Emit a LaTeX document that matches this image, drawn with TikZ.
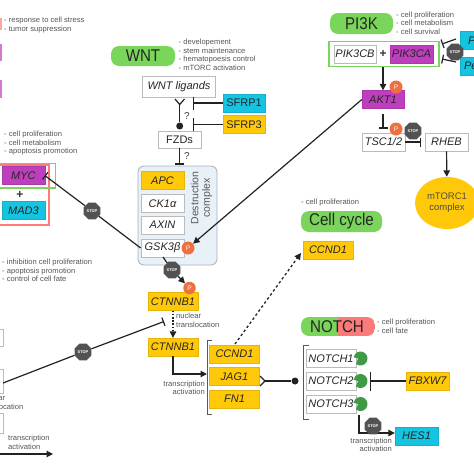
\documentclass[tikz,border=0pt]{standalone}
\usepackage{fontspec}
\setmainfont{Liberation Sans}
\usetikzlibrary{arrows.meta,shapes.geometric}
\definecolor{gy}{HTML}{FFC90A}
\definecolor{cy}{HTML}{14C4E0}
\definecolor{pu}{HTML}{BE3FBE}
\definecolor{gn}{HTML}{7AD65A}
\definecolor{rd}{HTML}{FB7A7A}
\definecolor{pk}{HTML}{F8A8A0}
\definecolor{orangep}{HTML}{EE7040}
\definecolor{ln}{HTML}{222222}
\definecolor{txt}{HTML}{555555}
\definecolor{bd}{HTML}{BBBBBB}
\definecolor{dcf}{HTML}{E8F0F8}
\definecolor{dcb}{HTML}{A8B0BC}
\definecolor{pac}{HTML}{3F9A45}
\newcommand{\nrw}[1]{\scalebox{.89}[1]{#1}}
\tikzset{
 x=1pt,y=-1pt,
 gene/.style={minimum width=#1,minimum height=18pt,inner sep=0pt,font=\fontsize{11}{11}\selectfont\itshape,text=black!85},
 gene/.default=43pt,
 ygene/.style={gene=#1,fill=gy,draw=gy!90!black,line width=.3pt},
 ygene/.default=43pt,
 cgene/.style={gene=#1,fill=cy,draw=cy!90!black,line width=.3pt},
 cgene/.default=43pt,
 pgene/.style={gene=#1,fill=pu,draw=pu!90!black,line width=.3pt},
 pgene/.default=43pt,
 wgene/.style={gene=#1,fill=white,draw=bd,line width=.8pt},
 wgene/.default=43pt,
 wplain/.style={wgene=#1,font=\fontsize{11}{11}\selectfont},
 yplain/.style={ygene=#1,font=\fontsize{11}{11}\selectfont},
 cplain/.style={cgene=#1,font=\fontsize{11}{11}\selectfont},
 pill/.style={rounded corners=8pt,fill=gn,inner sep=0pt,font=\fontsize{17}{17}\selectfont,text=black!85},
 note/.style={anchor=west,inner sep=0pt,font=\fontsize{7.6}{8.5}\selectfont,text=txt},
 notel/.style={align=left,note},
 noter/.style={anchor=east,align=right,inner sep=0pt,font=\fontsize{7.6}{8.5}\selectfont,text=txt},
 con/.style={draw=ln,line width=1.2pt},
 act/.style={con,-{Triangle[length=6.5pt,width=6.5pt]}},
 inh/.style={con,-{Bar[width=13pt,length=1pt]}},
 inhs/.style={con,-{Bar[width=9pt,length=1pt]}},
 stopsign/.style={regular polygon,regular polygon sides=8,minimum size=18pt,inner sep=0pt,fill=black!68,text=white,font=\bfseries\fontsize{4}{4}\selectfont},
 phos/.style={circle,fill=orangep,text=white,minimum size=13pt,inner sep=0pt,font=\fontsize{6.5}{6.5}\selectfont},
 dotn/.style={circle,fill=ln,minimum size=7pt,inner sep=0pt},
 frameg/.style={draw=gn,line width=1.1pt},
 framer/.style={draw=rd,line width=1.1pt},
 brk/.style={draw=black!65,line width=.9pt},
 qm/.style={inner sep=0pt,font=\fontsize{10}{10}\selectfont,text=black!75},
 plusn/.style={inner sep=0pt,font=\bfseries\fontsize{12}{12}\selectfont,text=black!80},
}
\begin{document}
\begin{tikzpicture}
\useasboundingbox (0,0) rectangle (474,474);
\clip (0,0) rectangle (474,474);
% left edge
\fill[pk] (0,18) rectangle (2,30);
\fill[pu!70] (0,44) rectangle (2,61);
\fill[pu!70] (0,80) rectangle (2,98);
\node[notel] (n1) at (4,25) {- response to cell stress\\- tumor suppression};
\node[notel] (n2) at (4,143.5) {- cell proliferation\\- cell metabolism\\- apoptosis promotion};
\node[notel] (n3) at (2,270.5) {- inhibition cell proliferation\\- apoptosis promotion\\- control of cell fate};
\draw[framer] (-5,165) rectangle (49,225);
\draw[frameg] (-5,163.5) rectangle (55.5,188);
\node[pgene=42.5pt,anchor=west] (myc) at (2,175.5) {MYC};
\node[plusn] (pl1) at (20,195) {+};
\node[cgene=42.5pt,anchor=west] (mad) at (2,210.5) {MAD3};
\draw[bd,line width=.8pt] (-5,329) rectangle (3,346);
\draw[bd,line width=.8pt] (-5,369) rectangle (3,393);
\draw[bd,line width=.8pt] (-5,413) rectangle (3,433);
\coordinate (lb) at (3,383);
\node[notel] (n4) at (-20,402.5) {nuclear\\translocation};
\node[notel] (n5) at (8,442.5) {transcription\\activation};
\coordinate (la) at (0,454);
\coordinate (lc) at (53,454);
\draw[act] (la) -- (lc);
% WNT
\node[pill,minimum width=64pt,minimum height=20pt] (wnt) at (143,56) {\nrw{WNT}};
\node[notel] (n6) at (178.5,55) {- developement\\- stem maintenance\\- hematopoesis control\\- mTORC activation};
\node[wgene=73pt,minimum height=21pt] (lig) at (179,86.5) {WNT ligands};
\node[cplain=42pt] (sf1) at (244,103) {SFRP1};
\node[yplain=42pt] (sf3) at (244,124.5) {SFRP3};
\node[wplain=43pt,minimum height=17pt] (fzd) at (179.5,139.5) {FZDs};
\node[dotn] (dot1) at (179.7,126) {};
\coordinate (fork) at (179.7,104.5);
\draw[con] (175,99) -- (fork) -- (184.5,99);
\draw[con] (fork) -- (dot1);
\coordinate (b1) at (192.5,103);
\coordinate (b2) at (192.5,124.5);
\draw[inh] (sf1) -- (b1);
\draw[inh] (sf3) -- (b2);
\node[qm] (q1) at (187,116) {?};
\node[qm] (q2) at (187,156) {?};
% destruction complex
\node[draw=dcb,fill=dcf,rounded corners=6pt,minimum width=79pt,minimum height=99pt,inner sep=0pt,line width=.8pt] (dc) at (177.5,215.5) {};
\coordinate (b3) at (179.5,164.5);
\draw[inhs] (fzd) -- (b3);
\node[ygene=43.5pt] (apc) at (162.5,180.5) {APC};
\node[wgene=43pt] (ck) at (162.5,203.5) {CK1α};
\node[wgene=43pt] (axin) at (162.5,225) {AXIN};
\node[wgene=43pt] (gsk) at (162.5,248) {GSK3β};
\node[rotate=90,align=center,inner sep=0pt,font=\fontsize{10.5}{11.5}\selectfont,text=black!65] (dl) at (201.5,198) {Destruction\\complex};
\node[phos] (pg) at (188,248) {P};
% MYC to GSK
\node[stopsign] (st1) at (92,211) {STOP};
\draw[con] (gsk.west) -- (st1);
\draw[inhs] (st1) -- (myc.east);
% CTNNB1
\node[ygene=50pt] (ct1) at (173,301.5) {CTNNB1};
\node[ygene=50pt] (ct2) at (173,347) {CTNNB1};
\node[phos,minimum size=12.5pt] (pc) at (189.5,288) {P};
\coordinate (gb) at (163,257);
\node[stopsign] (st2) at (172,270) {STOP};
\draw[con] (gb) -- (st2);
\draw[act] (st2) -- (pc);
\draw[act,line width=1.3pt,dash pattern=on 1.6pt off 1.6pt] (ct1) -- (ct2);
\node[notel] (n7) at (176,320.5) {nuclear\\translocation};
\coordinate (t1) at (164,321.5);
\node[stopsign] (st3) at (83,352) {STOP};
\draw[con] (lb) -- (st3);
\draw[inhs] (st3) -- (t1);
\node[ygene=50pt] (cc1) at (234.5,354) {CCND1};
\node[ygene=50pt] (jag) at (234.5,376.5) {JAG1};
\node[ygene=50pt] (fn) at (234.5,399) {FN1};
\coordinate (bk1) at (207,374);
\draw[brk] (212,340) -- (207.5,340) -- (207.5,414) -- (212,414);
\draw[act] (ct2.south) -- (173,374) -- (bk1);
\node[noter] (n8) at (205,388) {transcription\\activation};
% cell cycle
\node[note] (n9) at (301,203) {- cell proliferation};
\node[pill,minimum width=81pt,minimum height=21pt] (cyc) at (341.5,221.5) {\nrw{Cell cycle}};
\node[ygene=50pt] (cc2) at (328,250) {CCND1};
\coordinate (ds) at (235,344);
\coordinate (de) at (301,253);
\draw[act,line width=1.3pt,dash pattern=on 2.5pt off 2.5pt] (ds) -- (de);
% NOTCH
\begin{scope}
 \path[clip,rounded corners=8pt] (301,317) rectangle (375,336);
 \fill[gn] (301,317) rectangle (338,336);
 \fill[rd] (338,317) rectangle (375,336);
\end{scope}
\node[inner sep=0pt,font=\fontsize{17}{17}\selectfont,text=black!85] (nt) at (337,326.5) {\nrw{NOTCH}};
\node[notel] (n10) at (377,326.5) {- cell proliferation\\- cell fate};
\node[wgene=50pt] (no1) at (331,358.5) {NOTCH1};
\node[wgene=50pt] (no2) at (331,381) {NOTCH2};
\node[wgene=50pt] (no3) at (331,404) {NOTCH3};
\foreach \y in {358.5,381,404}{
 \fill[pac] (360.5,\y) ++(130:7) arc (130:-170:7) -- (358,\y) -- cycle;
}
\draw[brk] (308.5,345) -- (303.5,345) -- (303.5,419) -- (308.5,419);
\coordinate (fk) at (265,381);
\draw[con] (260,376) -- (fk) -- (260,386);
\node[dotn] (dot2) at (295,381) {};
\draw[con] (fk) -- (dot2);
\node[ygene=43pt] (fb) at (427.5,381) {FBXW7};
\coordinate (b4) at (370,381);
\draw[con,-{Bar[width=19pt,length=1pt]}] (fb) -- (b4);
\node[cgene=43pt] (hes) at (416.5,436) {HES1};
\coordinate (n3b) at (359,415);
\draw[act] (n3b) -- (359,433) -- (hes.west |- 0,433);
\node[stopsign] (st4) at (373,426) {STOP};
\node[noter] (n11) at (392,445) {transcription\\activation};
% PI3K
\node[pill,minimum width=63pt,minimum height=21pt] (pi) at (361.5,23.5) {\nrw{PI3K}};
\node[notel] (n12) at (396,23) {- cell proliferation\\- cell metabolism\\- cell survival};
\node[frameg,fill=white,minimum width=110pt,minimum height=25pt,inner sep=0pt] (fr) at (384,54) {};
\node[wgene=42pt] (cb) at (355,54) {PIK3CB};
\node[plusn] (pl2) at (383,54) {+};
\node[pgene=43pt] (ca) at (411.5,54) {PIK3CA};
\node[cgene=24pt,anchor=west,align=left,text width=22pt] (r1) at (460,40.5) {\hspace{7pt}P};
\node[cgene=24pt,anchor=west,align=left,text width=22pt] (r2) at (460,66) {\hspace{3pt}Pe};
\node[stopsign] (st5) at (455,52) {STOP};
\coordinate (b5) at (442,44);
\coordinate (b6) at (442,59);
\coordinate (s5a) at (456,39);
\coordinate (s5b) at (456,62);
\draw[inhs] (s5a) -- (b5);
\draw[inhs] (s5b) -- (b6);
\node[pgene=42pt] (akt) at (383,99.5) {AKT1};
\draw[act] (fr.south -| akt) -- (akt.north);
\node[phos] (pa) at (396,87) {P};
\node[wgene=43pt] (tsc) at (383.5,142) {TSC1/2};
\node[wgene=43pt] (rheb) at (446.5,142) {RHEB};
\coordinate (a7) at (383,114);
\coordinate (b7) at (383,128.5);
\draw[inhs] (a7) -- (b7);
\node[phos] (pt) at (396,129) {P};
\node[stopsign] (st6) at (413,131) {STOP};
\coordinate (b8) at (421,142);
\draw[inhs] (tsc) -- (b8);
\node[ellipse,fill=gy,minimum width=64pt,minimum height=52pt,inner sep=0pt,align=center,font=\fontsize{9.5}{11}\selectfont,text=black!70] (mt) at (447,203) {mTORC1\\complex};
\draw[act] (rheb) -- (mt);
\draw[act] (akt.west) -- (pg);
\end{tikzpicture}
\end{document}
